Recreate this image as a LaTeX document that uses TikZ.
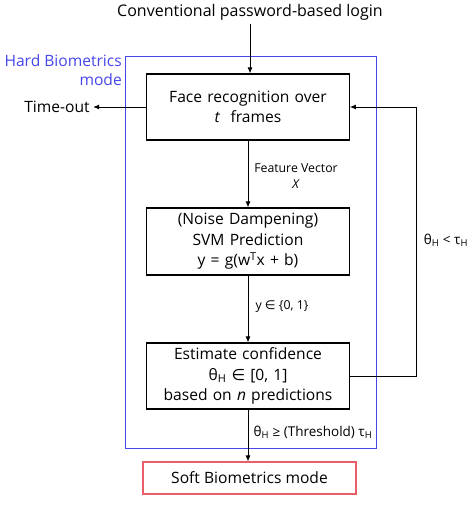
\documentclass[tikz,border=0pt]{standalone}
\usepackage{fontspec}
\setmainfont{Open Sans}
\newfontfamily\symfont{DejaVu Sans}
\usepackage{tikz}
\usetikzlibrary{positioning,calc,arrows.meta}
\definecolor{hardblue}{RGB}{70,70,235}
\definecolor{softred}{RGB}{232,95,105}

\begin{document}
\begin{tikzpicture}[x=1pt, y=-1pt, >={Latex[length=6pt,width=5pt]},
    stage/.style={rectangle, draw, line width=1.2pt, text width=196pt, align=center, minimum width=200pt, minimum height=66pt, font=\fontsize{15.6}{20.5}\selectfont},
    soft/.style={rectangle, draw=softred, line width=1.2pt, minimum width=213pt, minimum height=32pt, font=\fontsize{15.6}{20}\selectfont},
    lbl/.style={font=\fontsize{12.3}{16}\selectfont, align=center},
    cond/.style={font=\fontsize{13.5}{16}\selectfont}]
    \useasboundingbox (0,0) rectangle (474,511);

    % Hard biometrics frame
    \node[rectangle, draw=hardblue, line width=1pt, minimum width=251pt, minimum height=391pt] (hard) at (250.5,252.5) {};
    \node[text=hardblue, align=right, anchor=north east, font=\fontsize{15.6}{19.5}\selectfont, inner sep=1pt] (hardlbl) at (123,53) {Hard Biometrics\\mode};

    % Stages
    \node[font=\fontsize{16}{20}\selectfont] (login) at (250,12) {Conventional password-based login};
    \node[stage] (face) at (248,107) {Face recognition over\\\textit{t}\ \ frames};
    \node[stage, minimum height=67pt] (svm) at (248,241.5) {(Noise Dampening)\\SVM Prediction\\y = g(w\textsuperscript{T}x + b)};
    \node[stage] (conf) at (248,376) {Estimate confidence\\θ\textsubscript{H} {\symfont ∈} [0, 1]\\based on \textit{n} predictions};
    \node[soft] (softmode) at (249.5,478) {Soft Biometrics mode};
    \node[font=\fontsize{15.6}{20}\selectfont] (timeout) at (57,107) {Time-out};
    \coordinate (loop) at (416,107);

    % Connections
    \draw[->, thick] (login) -- (face.north -| login);
    \draw[->, thick] (face.west) -- (timeout.east);
    \draw[->, thick] (face) -- (svm);
    \draw[->, thick] (svm) -- (conf);
    \draw[->, thick] (conf.south) -- (conf.south |- softmode.north);
    \draw[->, thick] (conf.east) -| (loop) -- (face.east);

    % Labels
    \node[lbl] (feat) at (296,176) {Feature Vector\\\textit{X}};
    \node[lbl] (yval) at (282,307) {y {\symfont ∈} \{0, 1\}};
    \node[cond] (lower) at (446,240) {θ\textsubscript{H} < τ\textsubscript{H}};
    \node[cond] (upper) at (313,432) {θ\textsubscript{H} ≥ (Threshold) τ\textsubscript{H}};
\end{tikzpicture}
\end{document}
